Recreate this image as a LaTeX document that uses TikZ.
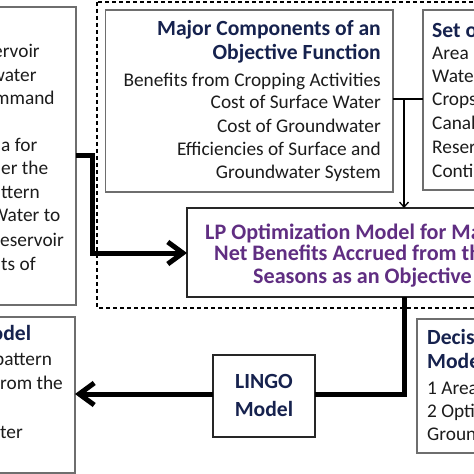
\documentclass[tikz,border=0pt]{standalone}
\usepackage{fontspec}
\setmainfont{Carlito}
\usetikzlibrary{arrows.meta}
\definecolor{navy}{RGB}{22,34,78}
\definecolor{lppurple}{RGB}{96,46,130}
\definecolor{boxgray}{RGB}{110,110,110}
\definecolor{txt}{RGB}{28,28,28}
\begin{document}
\begin{tikzpicture}[x=1bp,y=-1bp,
  box/.style={draw=boxgray, line width=1.3bp, fill=white, inner sep=0pt, outer sep=0pt},
  darkbox/.style={draw=black!85, line width=1.5bp, fill=white, inner sep=0pt, outer sep=0pt},
  body/.style={font=\fontsize{19.4}{23}\selectfont, text=txt, inner sep=0pt, anchor=base west},
  bodyr/.style={body, anchor=base east},
  ttl/.style={font=\fontsize{21.7}{24}\selectfont\bfseries, text=navy, inner sep=0pt, anchor=base west},
  ttlr/.style={ttl, anchor=base east},
  ttlc/.style={ttl, anchor=base},
  lptext/.style={font=\fontsize{22.2}{22}\selectfont\bfseries, text=lppurple, inner sep=0pt, anchor=base west},
  dashedframe/.style={line width=1.5bp, dash pattern=on 4bp off 3bp},
  thickline/.style={line width=5bp, line join=miter},
  thickarrow/.style={thickline, -{Straight Barb[length=15bp,width=22bp]}},
  thinarrow/.style={line width=1.3bp, -{Straight Barb[length=5bp,width=9bp]}},
  thinline/.style={line width=1.3bp}
]
\useasboundingbox (0,0) rectangle (474,474);
\fill[white] (0,0) rectangle (474,474);

% dashed frame
\draw[dashedframe] (97,2) rectangle (560,308);

% boxes
\node[box, minimum width=86bp, minimum height=298bp] (ltbox) at (33,156) {};
\node[box, minimum width=85bp, minimum height=156bp] (blbox) at (32.5,395) {};
\node[box, minimum width=287.5bp, minimum height=182bp] (mcbox) at (249.25,101) {};
\node[box, minimum width=97bp, minimum height=180bp] (setbox) at (471.5,100) {};
\node[darkbox, minimum width=373bp, minimum height=89bp] (lpbox) at (373.5,252.5) {};
\node[darkbox, minimum width=102bp, minimum height=82bp] (lingo) at (264,396) {};
\node[box, minimum width=103bp, minimum height=134bp] (decbox) at (468.5,386) {};

% left top box text
\node[body] (lt1) at (-7,58) {ervoir};
\node[body] (lt2) at (-9,82) {water};
\node[body] (lt3) at (-6,105) {mmand};
\node[body] (lt4) at (1,152) {a for};
\node[body] (lt5) at (1,175) {er the};
\node[body] (lt6) at (1,199) {ttern};
\node[body] (lt7) at (-9,222) {Water to};
\node[body] (lt8) at (0,246) {eservoir};
\node[body] (lt9) at (1,270) {ts of};

% bottom left box text
\node[ttl] (bl1) at (-8.5,340.5) {odel};
\node[body] (bl2) at (-6,365) {pattern};
\node[body] (bl3) at (0,389) {rom the};
\node[body] (bl4) at (0,438) {ter};

% major components box text
\node[ttlr] (mc1) at (381,35.5) {Major Components of an};
\node[ttlr] (mc2) at (381,59.5) {Objective Function};
\node[bodyr] (mc3) at (381,87) {Benefits from Cropping Activities};
\node[bodyr] (mc4) at (381,109) {Cost of Surface Water};
\node[bodyr] (mc5) at (381,133) {Cost of Groundwater};
\node[bodyr] (mc6) at (381,156) {Efficiencies of Surface and};
\node[bodyr] (mc7) at (381,179) {Groundwater System};

% set box text
\node[ttl] (st1) at (432,37.5) {Set o};
\node[body] (st2) at (432,60) {Area};
\node[body] (st3) at (432,83) {Wate};
\node[body] (st4) at (432,106) {Crops};
\node[body] (st5) at (432,130) {Canal};
\node[body] (st6) at (432,154) {Reser};
\node[body] (st7) at (432,178) {Conti};

% LP box text
\node[lptext] (lp1) at (205,239) {LP Optimization Model for Ma};
\node[lptext] (lp2) at (214,260) {Net Benefits Accrued from th};
\node[lptext] (lp3) at (253,283) {Seasons as an Objective};

% LINGO text
\node[ttlc] (lg1) at (264,388.5) {LINGO};
\node[ttlc] (lg2) at (264,416.5) {Model};

% decision box text
\node[ttl] (dc1) at (427,344.5) {Decis};
\node[ttl] (dc2) at (427,368.5) {Mode};
\node[body] (dc3) at (427,394) {1 Area};
\node[body] (dc4) at (427,417) {2 Opti};
\node[body] (dc5) at (427,440) {Groun};

% thin connectors
\coordinate (j) at (404,99);
\draw[thinline] (mcbox.east |- j) -- (setbox.west |- j);
\draw[thinarrow] (j) -- (j |- lpbox.north);

% thick connectors
\coordinate (c1) at (92,156);
\coordinate (c2) at (92,253);
\draw[thickarrow] (ltbox.east |- c1) -- (c1) -- (c2) -- (lpbox.west |- c2);
\coordinate (c3) at (404,394);
\draw[thickline] (lpbox.south -| c3) -- (c3) -- (lingo.east |- c3);
\draw[thickarrow] (lingo.west |- c3) -- (blbox.east |- c3);
\end{tikzpicture}
\end{document}
